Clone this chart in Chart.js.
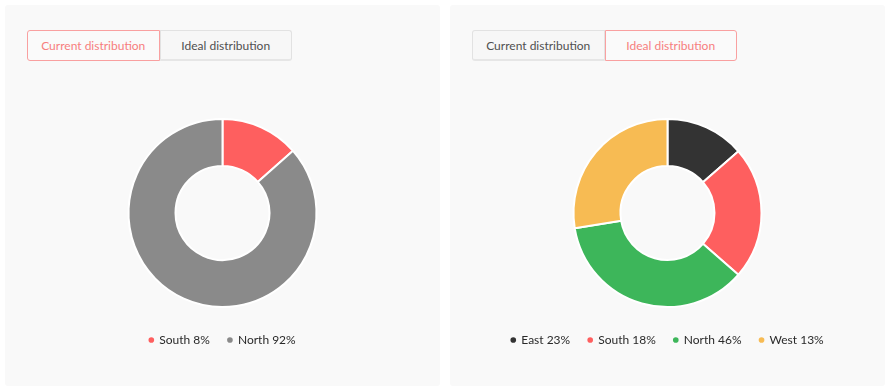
<!DOCTYPE html>
<html>
<head>
<meta charset="utf-8">
<script src="https://cdn.jsdelivr.net/npm/chart.js@4.4.1/dist/chart.umd.min.js"></script>
<style>
  html, body { margin: 0; padding: 0; background: #ffffff; width: 890px; height: 391px; overflow: hidden; font-family: Lato, "Open Sans", sans-serif; }
  .panel { position: absolute; top: 5px; width: 435px; height: 381px; background: #f9f9f9; border-radius: 3px; }
  #p1 { left: 5px; }
  #p2 { left: 450px; }
  .tabs { position: absolute; left: 22px; top: 25px; height: 31px; display: flex; }
  .tab { box-sizing: border-box; width: 132.5px; height: 31px; font-size: 12px; line-height: 29px; text-align: center; color: #505050; border: 1px solid #e2e2e2; border-bottom: 2px solid #e6e6e6; background: #f7f7f7; }
  .tab.first { border-radius: 3px 0 0 3px; }
  .tab.last { border-radius: 0 3px 3px 0; }
  .tab.active { color: #f77e7e; border: 1px solid #f9a0a0; background: #fafafa; }
  .cw { position: absolute; left: 0; top: 105px; width: 435px; height: 246px; }
</style>
</head>
<body>
<div class="panel" id="p1">
  <div class="tabs"><div class="tab first active">Current distribution</div><div class="tab last">Ideal distribution</div></div>
  <div class="cw"><canvas id="c1"></canvas></div>
</div>
<div class="panel" id="p2">
  <div class="tabs"><div class="tab first">Current distribution</div><div class="tab last active">Ideal distribution</div></div>
  <div class="cw"><canvas id="c2"></canvas></div>
</div>
<script>
// Current distribution
const currentLabels = ["South 8%", "North 92%"];
const currentValues = [13.5, 86.5];
const currentColors = ["#fe5f5f", "#8a8a8a"];

// Ideal distribution
const idealLabels = ["East 23%", "South 18%", "North 46%", "West 13%"];
const idealValues = [13.6, 22.8, 36.0, 27.6];
const idealColors = ["#333333", "#fe5f5f", "#3db65a", "#f7bb53"];

function makeChart(id, labels, values, colors) {
  return new Chart(document.getElementById(id), {
    type: 'doughnut',
    data: {
      labels: labels,
      datasets: [{ data: values, backgroundColor: colors, borderColor: '#ffffff', borderWidth: 2, hoverOffset: 0 }]
    },
    options: {
      responsive: true,
      maintainAspectRatio: false,
      animation: false,
      radius: 94,
      cutout: '50%',
      layout: { padding: 0 },
      plugins: {
        tooltip: { enabled: false },
        legend: {
          position: 'bottom',
          labels: {
            usePointStyle: true,
            pointStyle: 'circle',
            boxWidth: 4,
            boxHeight: 4,
            padding: 18,
            color: '#2a2a2a',
            font: { family: 'Lato', size: 12 },
            generateLabels: function (chart) {
              const items = Chart.overrides.doughnut.plugins.legend.labels.generateLabels(chart);
              items.forEach(function (it) { it.lineWidth = 0; it.strokeStyle = it.fillStyle; });
              return items;
            }
          }
        }
      }
    }
  });
}
makeChart('c1', currentLabels, currentValues, currentColors);
makeChart('c2', idealLabels, idealValues, idealColors);
</script>
</body>
</html>
